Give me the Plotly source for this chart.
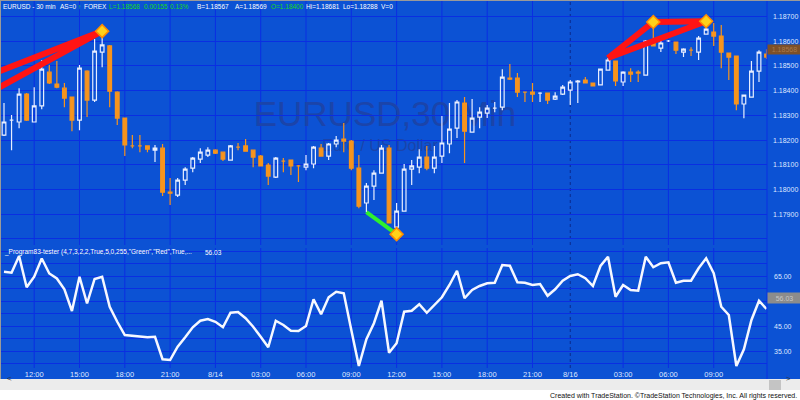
import plotly.graph_objects as go

# ---------------- data ----------------
bar_idx = list(range(102))
opens = [1.18220,1.18281,1.18273,1.18386,1.18273,1.18338,1.18475,1.18427,1.18410,1.18374,
         1.18281,1.18479,1.18362,1.18556,1.18581,1.18394,1.18289,1.18176,1.18176,1.18176,
         1.18159,1.18167,1.17989,1.17977,1.18038,1.18086,1.18123,1.18139,1.18159,1.18151,
         1.18119,1.18171,1.18176,1.18159,1.18135,1.18099,1.18050,1.18115,1.18119,1.18095,
         1.18090,1.18103,1.18167,1.18135,1.18184,1.18204,1.18196,1.18086,1.17945,1.18013,
         1.18066,1.18167,1.17847,1.17912,1.18082,1.18090,1.18131,1.18086,1.18135,1.18184,
         1.18248,1.18350,1.18232,1.18293,1.18309,1.18329,1.18333,1.18451,1.18451,1.18394,
         1.18394,1.18390,1.18390,1.18366,1.18386,1.18402,1.18435,1.18443,1.18431,1.18423,
         1.18483,1.18520,1.18435,1.18475,1.18475,1.18463,1.18593,1.18572,1.18601,1.18597,
         1.18556,1.18564,1.18556,1.18629,1.18637,1.18621,1.18552,1.18540,1.18346,1.18374,
         1.18479,1.18548]
highs = [1.18350,1.18301,1.18410,1.18390,1.18414,1.18524,1.18504,1.18520,1.18431,1.18374,
         1.18504,1.18483,1.18609,1.18641,1.18585,1.18398,1.18289,1.18220,1.18220,1.18176,
         1.18180,1.18184,1.18046,1.18046,1.18090,1.18131,1.18167,1.18171,1.18163,1.18151,
         1.18180,1.18188,1.18204,1.18159,1.18139,1.18107,1.18131,1.18127,1.18119,1.18099,
         1.18139,1.18176,1.18184,1.18188,1.18216,1.18269,1.18200,1.18139,1.18026,1.18078,
         1.18180,1.18180,1.17945,1.18103,1.18119,1.18163,1.18176,1.18176,1.18297,1.18350,
         1.18362,1.18374,1.18366,1.18333,1.18342,1.18354,1.18487,1.18508,1.18471,1.18394,
         1.18431,1.18394,1.18390,1.18394,1.18423,1.18443,1.18443,1.18455,1.18431,1.18487,
         1.18532,1.18520,1.18479,1.18491,1.18483,1.18605,1.18678,1.18601,1.18605,1.18597,
         1.18572,1.18576,1.18621,1.18681,1.18674,1.18666,1.18552,1.18540,1.18382,1.18520,
         1.18564,1.18568]
lows = [1.18216,1.18159,1.18248,1.18277,1.18273,1.18325,1.18427,1.18410,1.18333,1.18236,
        1.18240,1.18293,1.18354,1.18495,1.18333,1.18261,1.18135,1.18167,1.18151,1.18151,
        1.18111,1.17973,1.17937,1.17969,1.18018,1.18070,1.18107,1.18131,1.18143,1.18115,
        1.18119,1.18159,1.18155,1.18090,1.18095,1.18018,1.18046,1.18070,1.18058,1.18030,
        1.18078,1.18086,1.18135,1.18119,1.18171,1.18151,1.18078,1.17924,1.17908,1.17957,
        1.18066,1.17864,1.17819,1.17912,1.18018,1.18066,1.18078,1.18066,1.18107,1.18147,
        1.18208,1.18107,1.18232,1.18248,1.18289,1.18313,1.18321,1.18443,1.18374,1.18354,
        1.18354,1.18354,1.18346,1.18362,1.18382,1.18342,1.18350,1.18431,1.18419,1.18423,
        1.18483,1.18419,1.18419,1.18435,1.18435,1.18463,1.18581,1.18556,1.18597,1.18548,
        1.18536,1.18540,1.18524,1.18629,1.18581,1.18491,1.18443,1.18321,1.18288,1.18374,
        1.18435,1.18528]
closes = [1.18273,1.18281,1.18386,1.18281,1.18338,1.18487,1.18431,1.18414,1.18370,1.18281,
          1.18491,1.18362,1.18560,1.18585,1.18398,1.18289,1.18180,1.18176,1.18176,1.18163,
          1.18167,1.17989,1.17985,1.18038,1.18082,1.18127,1.18151,1.18159,1.18147,1.18123,
          1.18176,1.18171,1.18155,1.18131,1.18095,1.18054,1.18127,1.18115,1.18095,1.18095,
          1.18103,1.18171,1.18135,1.18184,1.18200,1.18196,1.18086,1.17932,1.18013,1.18066,
          1.18167,1.17864,1.17912,1.18082,1.18095,1.18131,1.18086,1.18131,1.18188,1.18244,
          1.18354,1.18236,1.18289,1.18313,1.18329,1.18329,1.18455,1.18447,1.18394,1.18394,
          1.18386,1.18390,1.18362,1.18378,1.18414,1.18435,1.18439,1.18431,1.18419,1.18487,
          1.18524,1.18439,1.18475,1.18467,1.18471,1.18601,1.18581,1.18593,1.18601,1.18564,
          1.18568,1.18564,1.18613,1.18649,1.18621,1.18556,1.18536,1.18346,1.18382,1.18479,
          1.18556,1.18536]
osc = [66.7,66.3,73.0,60.5,64.7,72.0,66.0,64.0,59.7,51.0,
       64.7,54.0,63.8,64.7,52.7,46.7,41.4,41.1,41.1,40.5,
       40.7,31.7,31.4,36.7,40.5,44.5,47.1,47.8,46.7,44.5,
       50.3,50.6,48.1,44.7,40.7,36.5,47.1,45.4,43.1,43.0,
       45.0,55.7,49.7,56.5,58.7,58.1,43.4,29.0,39.7,46.1,
       55.1,34.3,38.1,50.7,51.1,53.7,50.3,53.4,56.5,61.4,
       67.1,56.1,59.4,61.0,62.1,62.3,69.4,69.1,62.5,62.3,
       61.4,61.8,57.1,59.7,63.1,65.0,65.7,64.1,61.0,69.0,
       72.7,56.7,61.4,59.4,59.1,72.7,68.5,70.1,70.5,62.3,
       63.1,63.1,68.1,72.1,66.1,52.7,49.4,29.0,35.7,47.4,
       55.1,51.8]

time_tick_idx = [4, 10, 16, 22, 28, 34, 40, 46, 52, 58, 64, 70, 75, 82, 88, 94]
time_tick_txt = ["12:00", "15:00", "18:00", "21:00", "8/14", "03:00", "06:00", "09:00",
                 "12:00", "15:00", "18:00", "21:00", "8/16", "03:00", "06:00", "09:00"]
date_sep_idx = [75]

price_grid = [1.178, 1.179, 1.180, 1.181, 1.182, 1.183, 1.184, 1.185, 1.186, 1.187]
price_lbl_vals = [1.179, 1.180, 1.181, 1.182, 1.183, 1.184, 1.185, 1.186, 1.187]
osc_grid = [30, 35, 40, 45, 50, 55, 60, 65, 70, 75]
osc_lbl_vals = [35, 45, 65]

# pattern points (bar index)
swing_high_idx = [13, 86, 93]
swing_low_idx = [52]
left_lines_idx = [-1, 13, -1]
left_lines_px = [1.18474, 1.18641, 1.18407]
right_tri_idx = [80, 86, 93, 80]
green_leg_idx = [48, 52]

last_price = 1.18568
last_osc = 56.03

# ---------------- styling ----------------
BG = "#0c52d4"
GRID = "#0a2ee2"
UPC = "#e8eeff"
DNC = "#f7941d"
FONT = "Liberation Sans"
LBL = "#dfe7ff"
XR = [-0.53, 101.06]
PLOT_W = 767.0


def px_x(p):
    return p / PLOT_W


def px_y(p):
    return 1 - p / 400.0


fig = go.Figure()

fig.add_trace(go.Candlestick(
    x=bar_idx, open=opens, high=highs, low=lows, close=closes,
    increasing=dict(line=dict(color=UPC, width=1.2), fillcolor="rgba(0,0,0,0)"),
    decreasing=dict(line=dict(color=DNC, width=1.2), fillcolor=DNC),
    xaxis="x", yaxis="y", hoverinfo="skip"))

fig.add_trace(go.Scatter(x=left_lines_idx, y=left_lines_px, mode="lines",
                         line=dict(color="#ff1414", width=6), xaxis="x", yaxis="y"))
fig.add_trace(go.Scatter(x=right_tri_idx, y=[highs[i] for i in right_tri_idx], mode="lines",
                         line=dict(color="#ff1414", width=6), xaxis="x", yaxis="y"))
fig.add_trace(go.Scatter(x=green_leg_idx, y=[lows[i] for i in green_leg_idx], mode="lines",
                         line=dict(color="#2ef02e", width=4), xaxis="x", yaxis="y"))
fig.add_trace(go.Scatter(x=swing_high_idx + swing_low_idx,
                         y=[highs[i] for i in swing_high_idx] + [lows[i] for i in swing_low_idx],
                         mode="markers",
                         marker=dict(symbol="diamond", size=10, color="#ffd21a",
                                     line=dict(color="#ff8c00", width=1.5)),
                         xaxis="x", yaxis="y"))

fig.add_trace(go.Scatter(x=bar_idx, y=osc, mode="lines",
                         line=dict(color="#f6f8ff", width=2.5), xaxis="x2", yaxis="y2"))

shapes = []
for i in time_tick_idx:
    dash = "dot" if i in date_sep_idx else "solid"
    col = "#0a2a8c" if i in date_sep_idx else GRID
    shapes.append(dict(type="line", xref="x", yref="paper", x0=i, x1=i, y0=0.3875, y1=0.9975,
                       line=dict(color=col, width=1, dash=dash), layer="between"))
    shapes.append(dict(type="line", xref="x2", yref="paper", x0=i, x1=i, y0=0.08, y1=0.38,
                       line=dict(color=col, width=1, dash=dash), layer="between"))
shapes.append(dict(type="rect", xref="paper", yref="paper", x0=px_x(250), x1=px_x(520),
                   y0=px_y(128), y1=px_y(92), line=dict(width=0), fillcolor="rgba(0,0,0,0)",
                   layer="between",
                   label=dict(text="EURUSD,30 Min", font=dict(family=FONT, size=35, color="#1b44aa"),
                              textposition="middle center")))
shapes.append(dict(type="rect", xref="paper", yref="paper", x0=px_x(300), x1=px_x(460),
                   y0=px_y(152), y1=px_y(134), line=dict(width=0), fillcolor="rgba(0,0,0,0)",
                   layer="between",
                   label=dict(text="Euro / US Dollar", font=dict(family=FONT, size=16, color="#1b44aa"),
                              textposition="middle center")))
shapes.append(dict(type="line", xref="paper", yref="paper", x0=1, x1=1, y0=px_y(379), y1=1,
                   line=dict(color=GRID, width=1), layer="above"))
shapes.append(dict(type="line", xref="paper", yref="paper", x0=0, x1=800 / PLOT_W, y0=1, y1=1,
                   line=dict(color="#9a9a9a", width=2), layer="above"))
shapes.append(dict(type="line", xref="paper", yref="paper", x0=0, x1=0, y0=px_y(379), y1=1,
                   line=dict(color="#9a9a9a", width=2), layer="above"))
shapes.append(dict(type="rect", xref="paper", yref="paper", x0=0, x1=800 / PLOT_W,
                   y0=px_y(390), y1=px_y(379), fillcolor="#ececec", line=dict(width=0), layer="above"))
shapes.append(dict(type="rect", xref="paper", yref="paper", x0=px_x(769), x1=px_x(781),
                   y0=px_y(390), y1=px_y(380), fillcolor="#c4c4c4", line=dict(width=0), layer="above"))
shapes.append(dict(type="rect", xref="paper", yref="paper", x0=0, x1=800 / PLOT_W,
                   y0=0, y1=px_y(390), fillcolor="#ffffff", line=dict(width=0), layer="above"))

annotations = []
header = [("EURUSD - 30 min", 1, "#ffffff"), ("AS=0", 58, "#ffffff"), ("\u2191", 76, "#19e619"),
          ("FOREX", 82, "#ffffff"), ("L=1.18568", 107, "#19d919"), ("0.00155", 142, "#19d919"),
          ("0.13%", 168, "#19d919"), ("B=1.18567", 195, "#ffffff"), ("A=1.18569", 233, "#ffffff"),
          ("O=1.18400", 269, "#19d919"), ("Hi=1.18681", 304, "#ffffff"), ("Lo=1.18288", 341, "#ffffff"),
          ("V=0", 379, "#ffffff")]
for t, x, c in header:
    annotations.append(dict(text=t, x=px_x(x), y=px_y(6), xref="paper", yref="paper",
                            xanchor="left", yanchor="middle", showarrow=False,
                            font=dict(family=FONT, size=6.5, color=c)))
annotations.append(dict(text='_Program83-tester (4,7,3,2,2,True,5,0,255,"Green","Red",True,...',
                        x=px_x(2), y=px_y(252), xref="paper", yref="paper", xanchor="left",
                        yanchor="middle", showarrow=False, font=dict(family=FONT, size=6.5, color="#ffffff")))
annotations.append(dict(text=f"{last_osc:.2f}", x=px_x(203), y=px_y(252), xref="paper", yref="paper",
                        xanchor="left", yanchor="middle", showarrow=False,
                        font=dict(family=FONT, size=6.5, color="#ffffff")))
for v in price_lbl_vals:
    annotations.append(dict(text=f"{v:.5f}", x=1, y=v, xref="paper", yref="y", xanchor="left",
                            yanchor="middle", xshift=4, showarrow=False,
                            font=dict(family=FONT, size=7, color=LBL)))
for v in osc_lbl_vals:
    annotations.append(dict(text=f"{v:.2f}", x=1, y=v, xref="paper", yref="y2", xanchor="left",
                            yanchor="middle", xshift=5, showarrow=False,
                            font=dict(family=FONT, size=7, color=LBL)))
annotations.append(dict(text=f"{last_price:.5f}", x=1, y=last_price, xref="paper", yref="y",
                        xanchor="left", yanchor="middle", showarrow=False, width=31, height=7,
                        bgcolor="#7d5028", font=dict(family=FONT, size=7, color="#a8794a")))
annotations.append(dict(text=f"{last_osc:.2f}", x=1, y=last_osc, xref="paper", yref="y2",
                        xanchor="left", yanchor="middle", showarrow=False, width=31, height=8,
                        bgcolor="#8c8c8c", font=dict(family=FONT, size=7, color="#c8c8c8")))
annotations.append(dict(text="<", x=px_x(5), y=px_y(385), xref="paper", yref="paper",
                        showarrow=False, font=dict(family=FONT, size=8, color="#333333")))
annotations.append(dict(text=">", x=px_x(793), y=px_y(385), xref="paper", yref="paper",
                        showarrow=False, font=dict(family=FONT, size=8, color="#333333")))
annotations.append(dict(text="Created with TradeStation. \u00a9TradeStation Technologies, Inc. All rights reserved.",
                        x=px_x(799), y=px_y(395.5), xref="paper", yref="paper", xanchor="right",
                        yanchor="middle", showarrow=False, font=dict(family=FONT, size=7, color="#111111")))

fig.update_layout(
    width=800, height=400, margin=dict(l=0, r=33, t=0, b=0),
    paper_bgcolor=BG, plot_bgcolor=BG, showlegend=False, hovermode=False,
    font=dict(family=FONT),
    xaxis=dict(domain=[0, 1], range=XR, anchor="y", showgrid=False, zeroline=False,
               showticklabels=False, rangeslider=dict(visible=False), showline=False),
    yaxis=dict(domain=[0.3875, 0.9975], range=[1.17775, 1.18763], side="right", anchor="x",
               tickvals=price_grid, showticklabels=False, showgrid=True, gridcolor=GRID,
               gridwidth=1, zeroline=False, ticks=""),
    xaxis2=dict(domain=[0, 1], range=XR, anchor="y2", showgrid=False, zeroline=False,
                tickvals=time_tick_idx, ticktext=time_tick_txt, ticks="",
                tickfont=dict(size=7.5, color=LBL, family=FONT)),
    yaxis2=dict(domain=[0.08, 0.38], range=[28.2, 76.2], side="right", anchor="x2",
                tickvals=osc_grid, showticklabels=False, showgrid=True, gridcolor=GRID,
                gridwidth=1, zeroline=False, ticks=""),
    shapes=shapes, annotations=annotations,
)

fig.write_html("out.html", config={"displayModeBar": False},
               post_script="document.body.style.margin='0px';")
